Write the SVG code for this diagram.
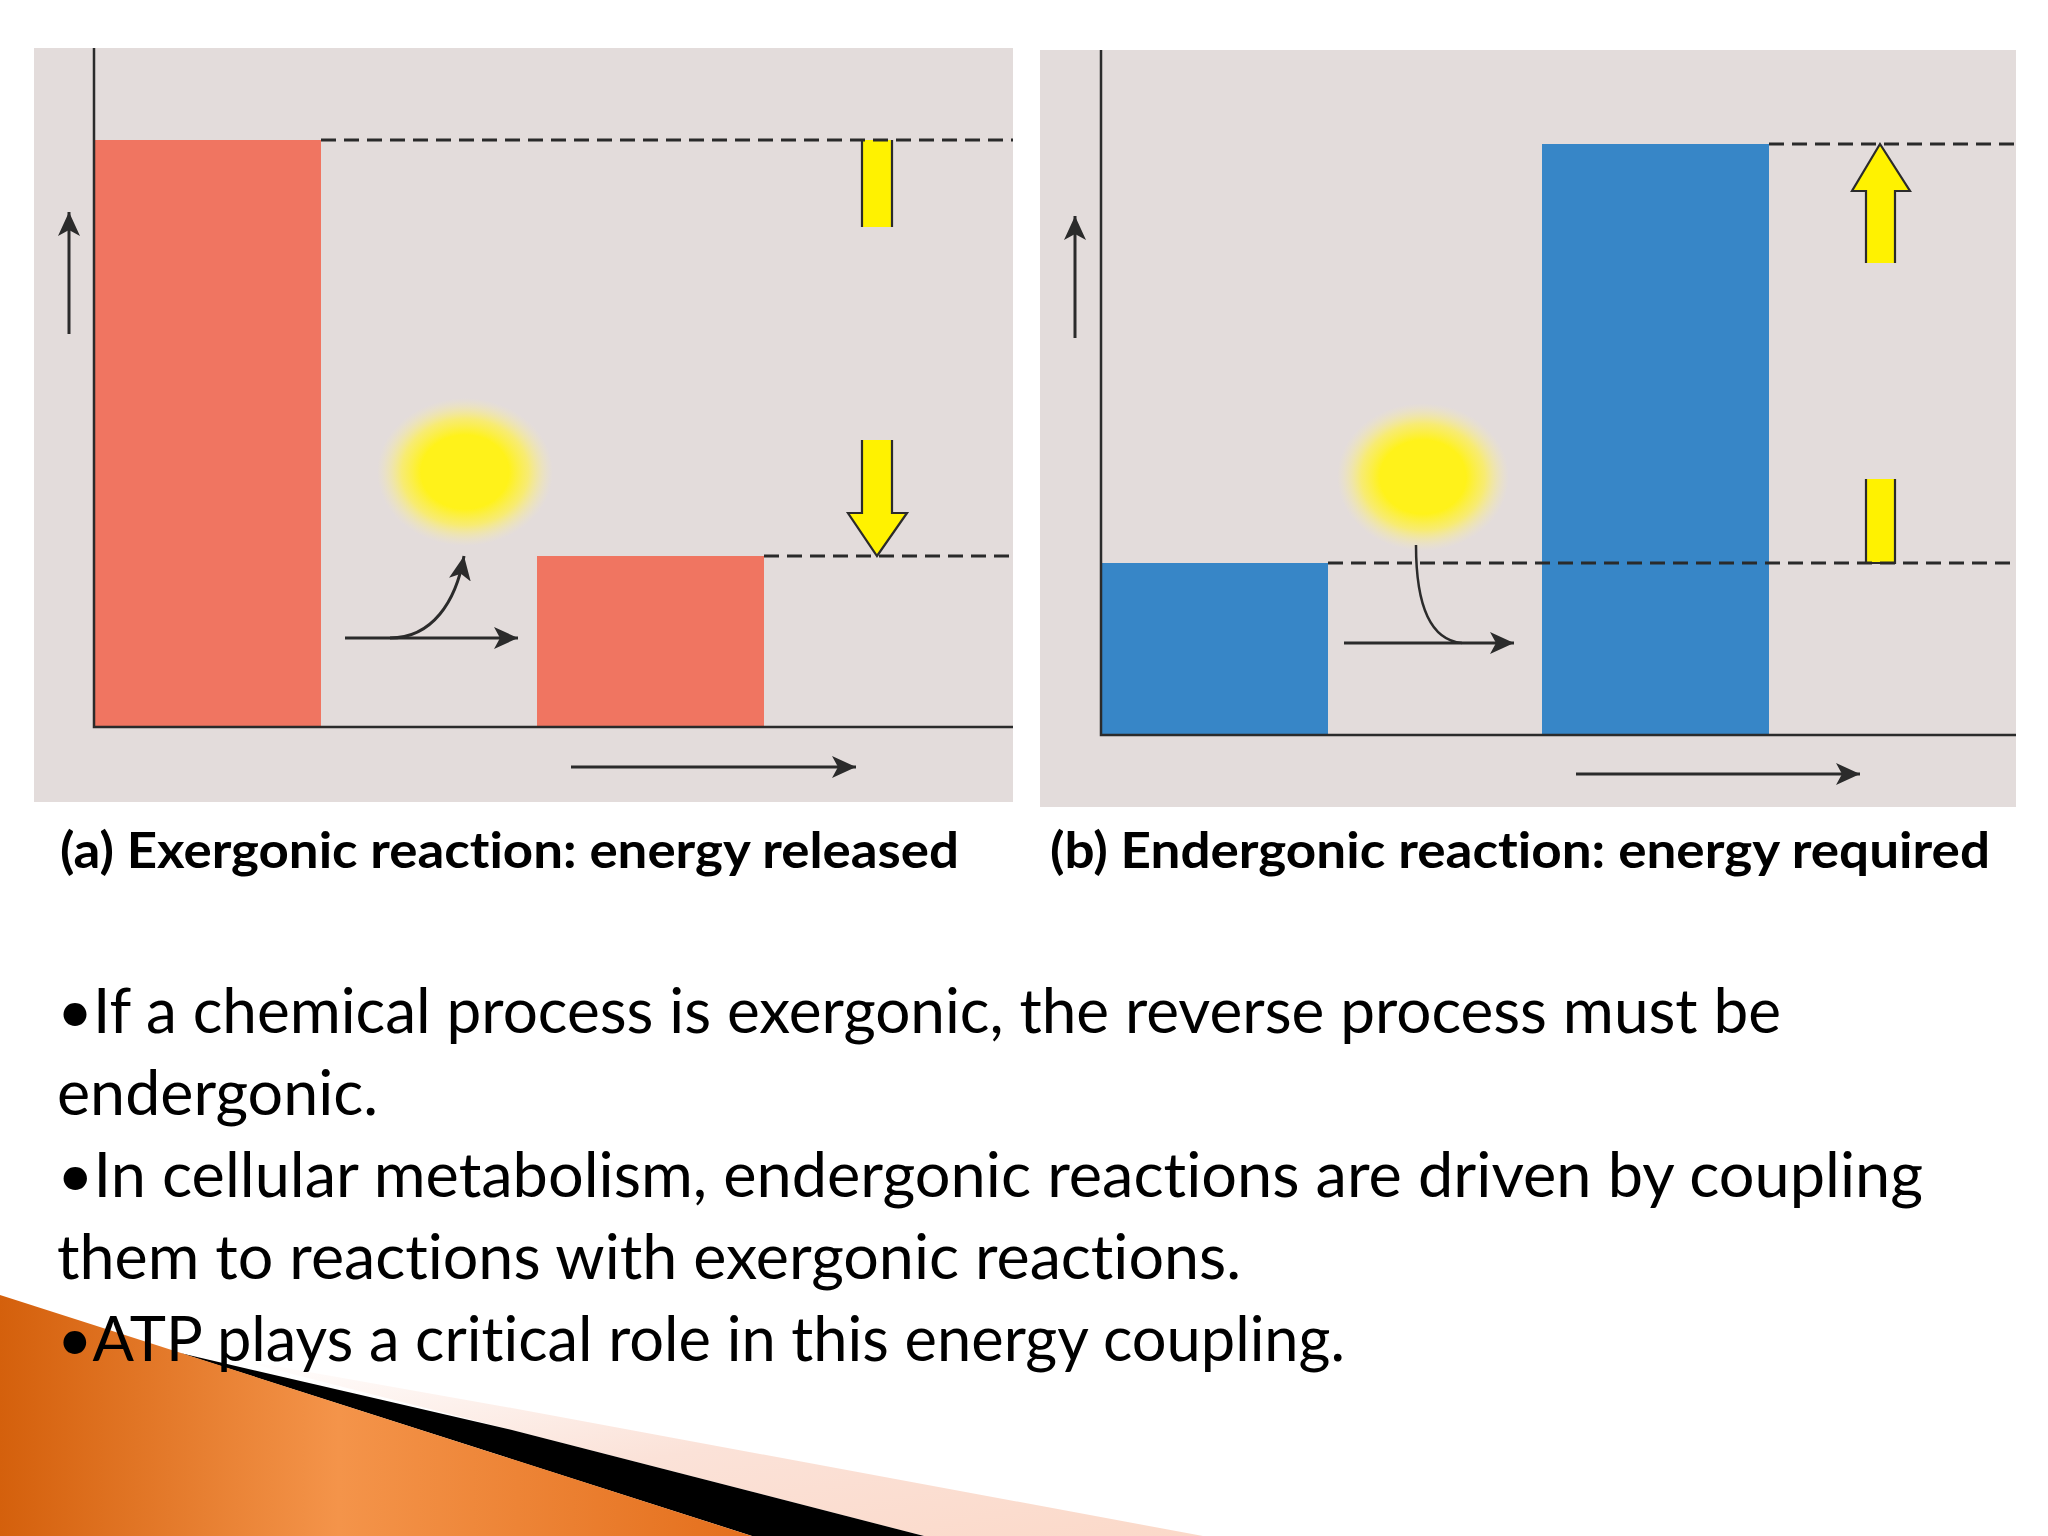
<svg xmlns="http://www.w3.org/2000/svg" width="2048" height="1536" viewBox="0 0 2048 1536">
<style>
.panel{fill:#e3dcdb}
.red{fill:#f07561}
.blue{fill:#3786c7}
.axis{stroke:#2b2b2b;stroke-width:2.5;fill:none}
.dash{stroke:#2a2a2a;stroke-width:3.2;stroke-dasharray:15 8;fill:none}
.arr{stroke:#2b2b2b;stroke-width:3;fill:none;marker-end:url(#ah)}
.plain{stroke:#2b2b2b;stroke-width:2.5;fill:none}
.yfill{fill:#fff200;stroke:none}
.yline{fill:none;stroke:#2b2b2b;stroke-width:2.2;stroke-linejoin:miter}
.cap{font-family:Lato,"Open Sans","Liberation Sans",sans-serif;font-weight:bold;font-size:49px;fill:#000;font-variant-ligatures:none;font-feature-settings:"liga" 0,"clig" 0,"dlig" 0}
.body{font-family:Lato,"Open Sans","Liberation Sans",sans-serif;font-size:61px;fill:#000;font-variant-ligatures:none;font-feature-settings:"liga" 0,"clig" 0,"dlig" 0}
</style>
<defs>
<marker id="ah" markerUnits="userSpaceOnUse" markerWidth="26" markerHeight="22" refX="24" refY="11" orient="auto">
<path d="M0,0 L24,11 L0,22 L6,11 z" fill="#2b2b2b"/>
</marker>
<radialGradient id="sun" cx="0.5" cy="0.5" r="0.5">
<stop offset="0" stop-color="#fff21a"/>
<stop offset="0.5" stop-color="#fff21a"/>
<stop offset="0.72" stop-color="#fbee60" stop-opacity="0.85"/>
<stop offset="1" stop-color="#f7ecb0" stop-opacity="0"/>
</radialGradient>
<linearGradient id="orange" x1="0" y1="0" x2="1" y2="0">
<stop offset="0" stop-color="#d4600c"/>
<stop offset="0.45" stop-color="#f4944a"/>
<stop offset="1" stop-color="#e46f1c"/>
</linearGradient>
<linearGradient id="pink" x1="0" y1="0" x2="1" y2="1">
<stop offset="0" stop-color="#ffffff"/>
<stop offset="0.5" stop-color="#fbe2d8"/>
<stop offset="1" stop-color="#fbd9c9"/>
</linearGradient>
</defs>
<rect width="2048" height="1536" fill="#ffffff"/>

<g id="decoration">
<polygon points="230,1358 512,1408 1203,1536 924,1536 512,1430" fill="url(#pink)"/>
<polygon points="180,1353 512,1430 924,1536 752,1536" fill="#000000"/>
<polygon points="0,1295 752,1536 0,1536" fill="url(#orange)"/>
</g>

<g id="panel-a">
<rect class="panel" x="34" y="48" width="979" height="754"/>
<g id="bar-a1"><rect class="red" x="94" y="140" width="227" height="587"/></g>
<g id="bar-a2"><rect class="red" x="537" y="556" width="227" height="171"/></g>
<g id="sun-a"><ellipse cx="465" cy="472" rx="88" ry="74" fill="url(#sun)"/></g>
<g id="yellow-a-top">
<rect class="yfill" x="862" y="140" width="30" height="87"/>
<path class="yline" d="M862,140 V227 M892,140 V227"/>
</g>
<g id="yellow-a-arrow">
<path class="yfill" d="M862,440 V513 H848 L877,556 L907,513 H892 V440 z"/>
<path class="yline" d="M862,440 V513 H848 L877,556 L907,513 H892 V440"/>
</g>
<g id="axes-a">
<path class="axis" d="M94,48 V727 H1013"/>
</g>
</g>

<g id="panel-b">
<rect class="panel" x="1040" y="50" width="976" height="757"/>
<g id="bar-b1"><rect class="blue" x="1101" y="563" width="227" height="172"/></g>
<g id="bar-b2"><rect class="blue" x="1542" y="144" width="227" height="591"/></g>
<g id="sun-b"><ellipse cx="1423" cy="477" rx="86" ry="74" fill="url(#sun)"/></g>
<g id="yellow-b-arrow">
<path class="yfill" d="M1866,263 V191 H1852 L1880,144 L1910,191 H1895 V263 z"/>
<path class="yline" d="M1866,263 V191 H1852 L1880,144 L1910,191 H1895 V263"/>
</g>
<g id="yellow-b-bottom">
<rect class="yfill" x="1866" y="479" width="29" height="84"/>
<path class="yline" d="M1866,479 V563 H1895 V479"/>
</g>
<g id="axes-b">
<path class="axis" d="M1101,50 V735 H2016"/>
</g>
</g>

<g id="connectors">
<path class="dash" d="M321,140 H1013"/>
<path class="dash" d="M764,556 H1013"/>
<path class="dash" d="M1769,144 H2016"/>
<path class="dash" d="M1328,563 H2016"/>
<path class="arr" d="M69,334 V212"/>
<path class="arr" d="M345,638 H518"/>
<path class="arr" d="M390,638 C432,638 456,602 464,556"/>
<path class="arr" d="M571,767 H856"/>
<path class="arr" d="M1075,338 V216"/>
<path class="arr" d="M1344,643 H1514"/>
<path class="plain" d="M1416,545 C1416,600 1428,640 1462,643"/>
<path class="arr" d="M1576,774 H1860"/>
</g>

<g id="captions">
<text class="cap" x="60" y="868" textLength="899" lengthAdjust="spacingAndGlyphs">(a) Exergonic reaction: energy released</text>
<text class="cap" x="1050" y="868" textLength="940" lengthAdjust="spacingAndGlyphs">(b) Endergonic reaction: energy required</text>
</g>

<g id="bullets">
<text class="body" x="57" y="1033" textLength="1724" lengthAdjust="spacingAndGlyphs">•If a chemical process is exergonic, the reverse process must be</text>
<text class="body" x="57" y="1115" textLength="321" lengthAdjust="spacingAndGlyphs">endergonic.</text>
<text class="body" x="57" y="1197" textLength="1866" lengthAdjust="spacingAndGlyphs">•In cellular metabolism, endergonic reactions are driven by coupling</text>
<text class="body" x="57" y="1279" textLength="1184" lengthAdjust="spacingAndGlyphs">them to reactions with exergonic reactions.</text>
<text class="body" x="57" y="1361" textLength="1288" lengthAdjust="spacingAndGlyphs">•ATP plays a critical role in this energy coupling.</text>
</g>
</svg>
